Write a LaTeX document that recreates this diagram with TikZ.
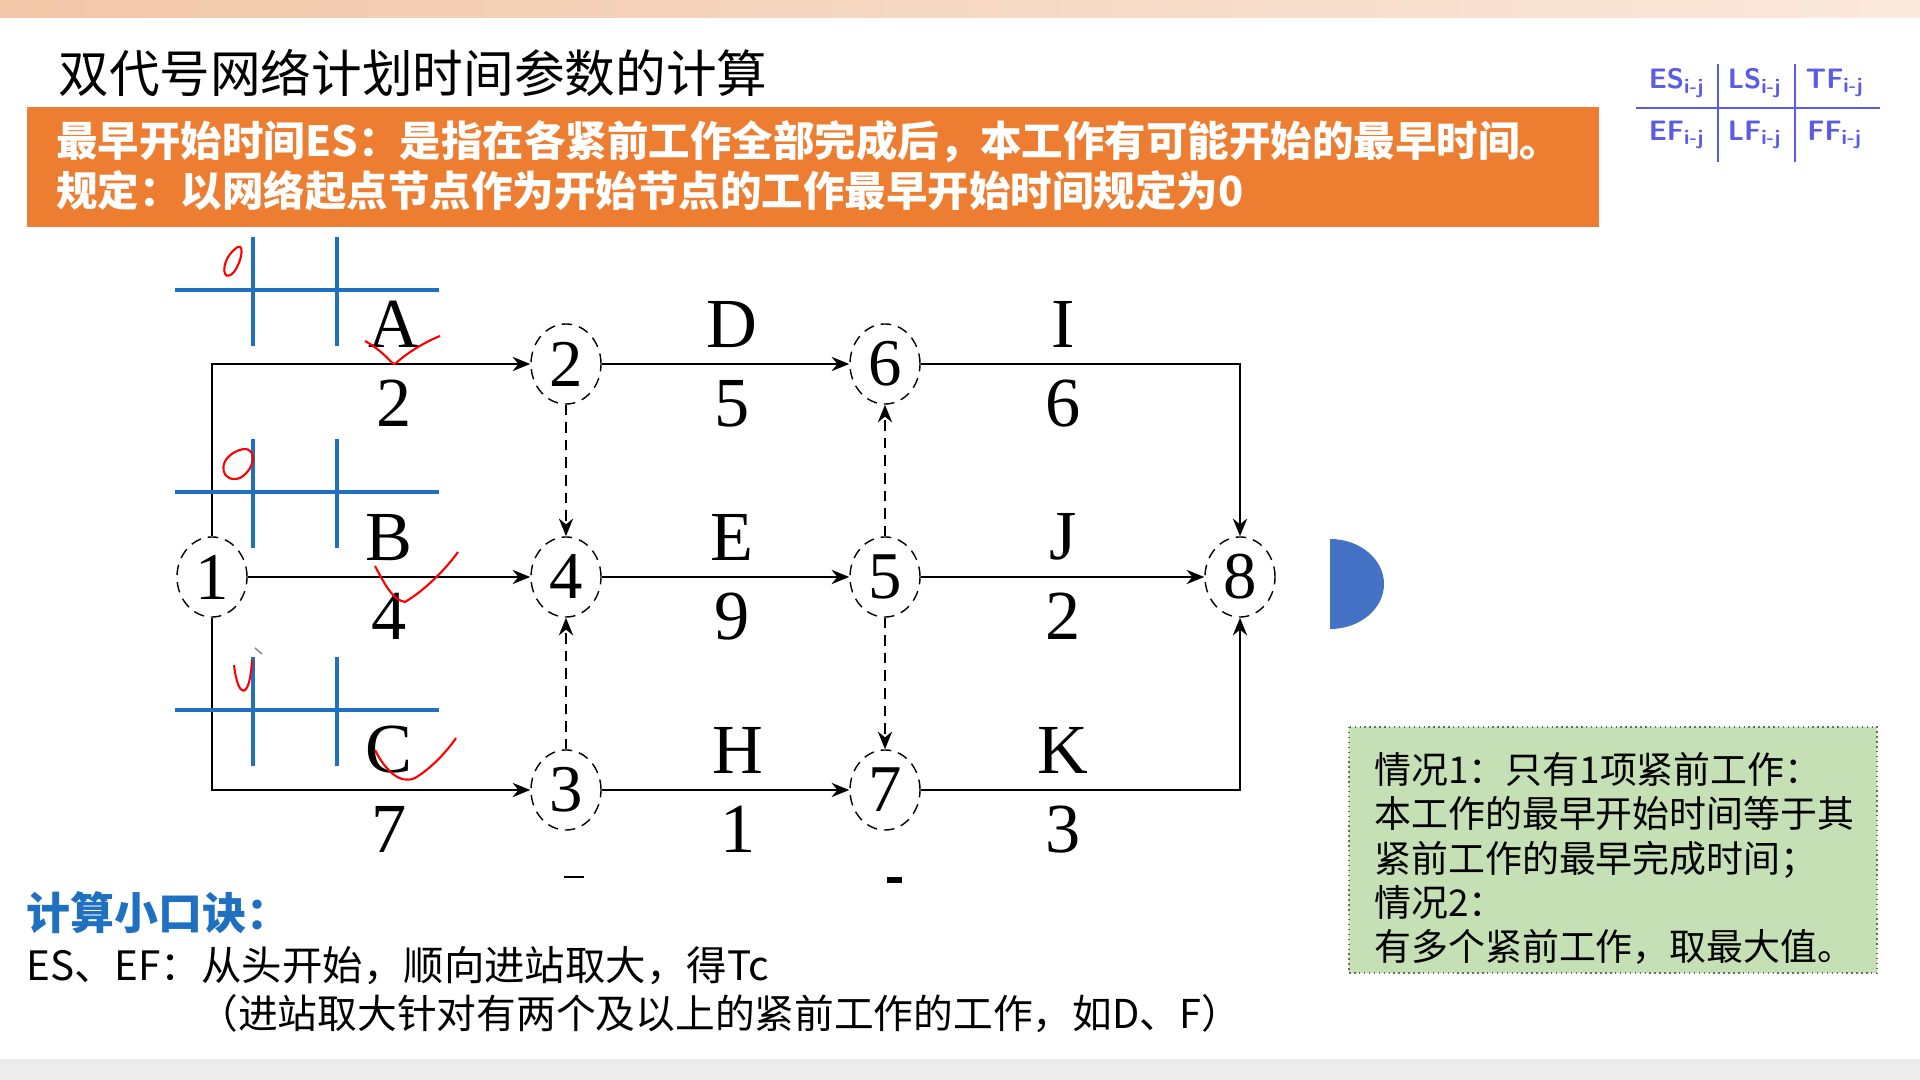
\documentclass[tikz,border=0pt]{standalone}
\usepackage{fontspec}
\setmainfont{Liberation Serif}
\newfontfamily\cjk{Noto Sans CJK SC}
\usetikzlibrary{arrows.meta,shapes.geometric}
\definecolor{barorange}{HTML}{ED7D31}
\definecolor{gridblue}{HTML}{1F70C1}
\definecolor{legendblue}{HTML}{5B5BE6}
\definecolor{boxgreen}{HTML}{C5E0B4}
\definecolor{halfblue}{HTML}{4472C4}
\definecolor{topbar}{HTML}{F2C7A8}
\tikzset{
    event/.style={ellipse, draw, densely dashed, fill=white, minimum width=0.7cm,
        minimum height=0.8cm, inner sep=0pt, font=\fontsize{19}{19}\selectfont},
    work/.style={-{Stealth[length=5pt,width=4pt]}, thick},
    dummy/.style={work, densely dashed},
    lbl/.style={font=\fontsize{20}{20}\selectfont},
    grid/.style={gridblue, line width=1.4pt},
    handmark/.style={red, line width=0.6pt}
}
\begin{document}
\begin{tikzpicture}[x=0.01cm, y=-0.01cm]
\useasboundingbox (0,0) rectangle (1920,1080);
\fill[left color=topbar, right color=topbar!40!white] (0,0) rectangle (1920,18);
\fill[gray!15] (0,1059) rectangle (1920,1080);
% title and orange banner
\node[anchor=west, font=\cjk\fontsize{14.4}{16}\selectfont] (title) at (46,73) {双代号网络计划时间参数的计算};
\fill[barorange] (27,107) rectangle (1599,227);
\node[anchor=west, align=left, text=white, font=\cjk\bfseries\fontsize{11.8}{14.2}\selectfont] (rule) at (44,166)
    {最早开始时间ES：是指在各紧前工作全部完成后，本工作有可能开始的最早时间。\\
     规定：以网络起点节点作为开始节点的工作最早开始时间规定为0};
% legend
\draw[legendblue, line width=0.8pt] (1636,108) -- (1880,108);
\draw[legendblue, line width=0.8pt] (1718,64) -- (1718,162) (1795,64) -- (1795,162);
\foreach \t/\x/\y in {ES/1677/83, LS/1755/83, TF/1835/83, EF/1677/135, LF/1755/135, FF/1835/135}
    \node[text=legendblue, font=\sffamily\bfseries\fontsize{8}{8}\selectfont] at (\x,\y) {\t\textsubscript{i-j}};
% events
\node[event] (n1) at (212,577) {1};
\node[event] (n2) at (566,364) {2};
\node[event] (n4) at (566,577) {4};
\node[event] (n3) at (566,790) {3};
\node[event] (n6) at (885,364) {6};
\node[event] (n5) at (885,577) {5};
\node[event] (n7) at (885,790) {7};
\node[event] (n8) at (1240,577) {8};
\coordinate (c1t) at (212,364);
\coordinate (c1b) at (212,790);
\coordinate (c8t) at (1240,364);
\coordinate (c8b) at (1240,790);
% works
\draw[work] (n1.north) -- (c1t) -- (n2);
\draw[work] (n1) -- (n4);
\draw[work] (n1.south) -- (c1b) -- (n3);
\draw[work] (n2) -- (n6);
\draw[work] (n4) -- (n5);
\draw[work] (n3) -- (n7);
\draw[work] (n6) -- (c8t) -- (n8.north);
\draw[work] (n5) -- (n8);
\draw[work] (n7) -- (c8b) -- (n8.south);
\draw[dummy] (n2) -- (n4);
\draw[dummy] (n3) -- (n4);
\draw[dummy] (n5) -- (n6);
\draw[dummy] (n5) -- (n7);
% labels
\foreach \a/\d/\x/\y in {A/2/394/364, D/5/732/364, I/6/1063/364,
                         B/4/389/577, E/9/732/577, J/2/1063/577,
                         C/7/389/790, H/1/738/790, K/3/1063/790}{
    \node[lbl, anchor=south] at (\x,\y-4) {\a};
    \node[lbl, anchor=north] at (\x,\y+4) {\d};
}
% time grids
\foreach \y in {290,492,710}{
    \draw[grid] (175,\y) -- (439,\y);
    \draw[grid] (253,\y-53) -- (253,\y+56) (337,\y-53) -- (337,\y+56);
}
% hand marks
\draw[handmark] (234,250) .. controls (246,238) and (242,262) .. (234,272) .. controls (222,285) and (220,262) .. (234,250);
\draw[handmark] (235,452) .. controls (258,440) and (258,468) .. (240,478) .. controls (222,484) and (216,462) .. (235,452);
\draw[handmark] (234,665) .. controls (238,700) and (250,700) .. (252,660);
\draw[handmark] (365,341) .. controls (385,352) and (392,365) .. (395,364) .. controls (410,350) and (430,340) .. (440,336);
\draw[handmark] (375,566) .. controls (385,585) and (393,600) .. (405,602) .. controls (425,590) and (445,570) .. (458,552);
\draw[handmark] (375,750) .. controls (385,770) and (400,785) .. (415,778) .. controls (432,768) and (448,750) .. (456,738);
\draw[gray, thin] (255,648) -- (262,654);
% small marks
\draw[thick] (564,877) -- (584,877);
\draw[line width=1.5pt] (887,880) -- (902,880);
% blue half disc
\fill[halfblue] (1330,539) arc[start angle=-90, end angle=90, x radius=54, y radius=45] -- cycle;
% green note
\draw[boxgreen!50!black, densely dotted, fill=boxgreen] (1349,727) rectangle (1877,973);
\node[anchor=north west, align=left, font=\cjk\fontsize{10.5}{12.6}\selectfont] (note) at (1362,740)
    {情况1：只有1项紧前工作：\\本工作的最早开始时间等于其\\紧前工作的最早完成时间；\\情况2：\\有多个紧前工作，取最大值。};
% bottom text
\node[anchor=west, text=gridblue, font=\cjk\bfseries\fontsize{12.5}{14}\selectfont] (tip) at (14,913) {计算小口诀：};
\node[anchor=west, font=\cjk\fontsize{11.5}{13}\selectfont] (tip1) at (14,966) {ES、EF：从头开始，顺向进站取大，得Tc};
\node[anchor=west, font=\cjk\fontsize{11.3}{13}\selectfont] (tip2) at (186,1014) {（进站取大针对有两个及以上的紧前工作的工作，如D、F）};
\end{tikzpicture}
\end{document}
